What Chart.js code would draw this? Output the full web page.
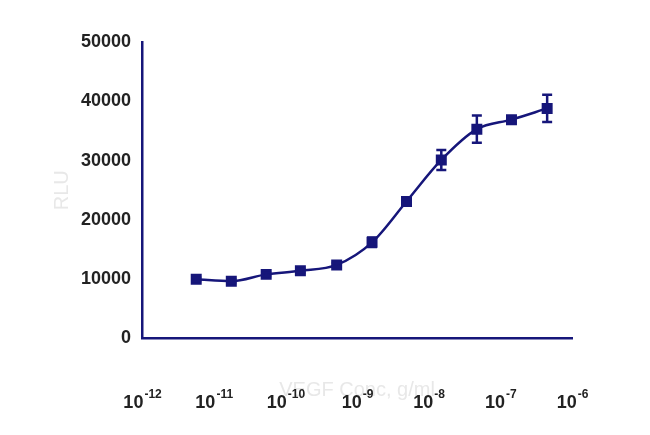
<!DOCTYPE html>
<html><head><meta charset="utf-8">
<script src="https://cdn.jsdelivr.net/npm/chart.js@4"></script>
<style>body{margin:0;background:#fff}#wrap{width:650px;height:435px}</style>
</head><body><div id="wrap"><canvas id="chart"></canvas></div>
<script>
const concs = [5.7e-12, 1.76e-11, 5.4e-11, 1.62e-10, 5.2e-10, 1.62e-9, 4.9e-9, 1.5e-8, 4.7e-8, 1.43e-7, 4.5e-7];
const signal = [9970, 9650, 10800, 11400, 12400, 16200, 23100, 30100, 35300, 36900, 38800];
const errs = [300, 300, 300, 300, 300, 800, 400, 1700, 2300, 400, 2300];
const exponents = [-12, -11, -10, -9, -8, -7, -6];
const navy = '#16167a';

const errorBars = {
  id: 'errorBars',
  afterDatasetsDraw(chart) {
    const {ctx, scales: {x, y}} = chart;
    ctx.save();
    ctx.strokeStyle = navy; ctx.lineWidth = 2.5;
    concs.forEach((c, i) => {
      const px = x.getPixelForValue(c);
      const top = y.getPixelForValue(signal[i] + errs[i]);
      const bot = y.getPixelForValue(signal[i] - errs[i]);
      ctx.beginPath();
      ctx.moveTo(px, top); ctx.lineTo(px, bot);
      ctx.moveTo(px - 5, top); ctx.lineTo(px + 5, top);
      ctx.moveTo(px - 5, bot); ctx.lineTo(px + 5, bot);
      ctx.stroke();
    });
    // x tick labels with superscript exponents
    ctx.fillStyle = '#222';
    ctx.textBaseline = 'alphabetic';
    exponents.forEach(e => {
      const px = x.getPixelForValue(Math.pow(10, e));
      ctx.font = 'bold 18px "Liberation Sans"';
      const w1 = ctx.measureText('10').width;
      ctx.font = 'bold 12px "Liberation Sans"';
      const w2 = ctx.measureText(String(e)).width;
      const start = px - (w1 + w2) / 2;
      ctx.font = 'bold 18px "Liberation Sans"';
      ctx.textAlign = 'left';
      ctx.fillText('10', start, x.bottom + 2);
      ctx.font = 'bold 12px "Liberation Sans"';
      ctx.fillText(String(e), start + w1 + 1, x.bottom - 8);
    });
    ctx.restore();
  }
};

new Chart(document.getElementById('chart').getContext('2d'), {
  type: 'line',
  data: {
    datasets: [{
      data: concs.map((c, i) => ({x: c, y: signal[i]})),
      borderColor: navy,
      backgroundColor: navy,
      borderWidth: 2.5,
      cubicInterpolationMode: 'monotone',
      pointStyle: 'rect',
      pointRadius: 6,
      pointHoverRadius: 6
    }]
  },
  options: {
    responsive: true,
    maintainAspectRatio: false,
    animation: false,
    layout: {padding: {left: 46, right: 78, top: 42, bottom: 29}},
    plugins: {legend: {display: false}, tooltip: {enabled: false}},
    scales: {
      x: {
        type: 'logarithmic', min: 1e-12, max: 1e-6,
        grid: {display: false, drawTicks: true, tickLength: 8, tickColor: navy},
        border: {color: navy, width: 2.5},
        afterBuildTicks: (s) => { s.ticks = exponents.map(e => ({value: Math.pow(10, e)})); },
        ticks: {
          color: 'rgba(0,0,0,0)', font: {family: 'Liberation Sans', size: 18, weight: 'bold'},
          maxRotation: 0, autoSkip: false,
          callback: () => '10'
        },
        title: {display: true, text: 'VEGF Conc, g/ml', color: '#e8e8e8', font: {family: 'Liberation Sans', size: 20}}
      },
      y: {
        min: 0, max: 50000,
        grid: {display: false, drawTicks: true, tickLength: 8, tickColor: navy},
        border: {color: navy, width: 2.5},
        ticks: {stepSize: 10000, color: '#222', font: {family: 'Liberation Sans', size: 18, weight: 'bold'},
          callback: (v) => String(v)},
        title: {display: true, text: 'RLU', color: '#e8e8e8', font: {family: 'Liberation Sans', size: 20}}
      }
    }
  },
  plugins: [errorBars]
});
</script></body></html>
